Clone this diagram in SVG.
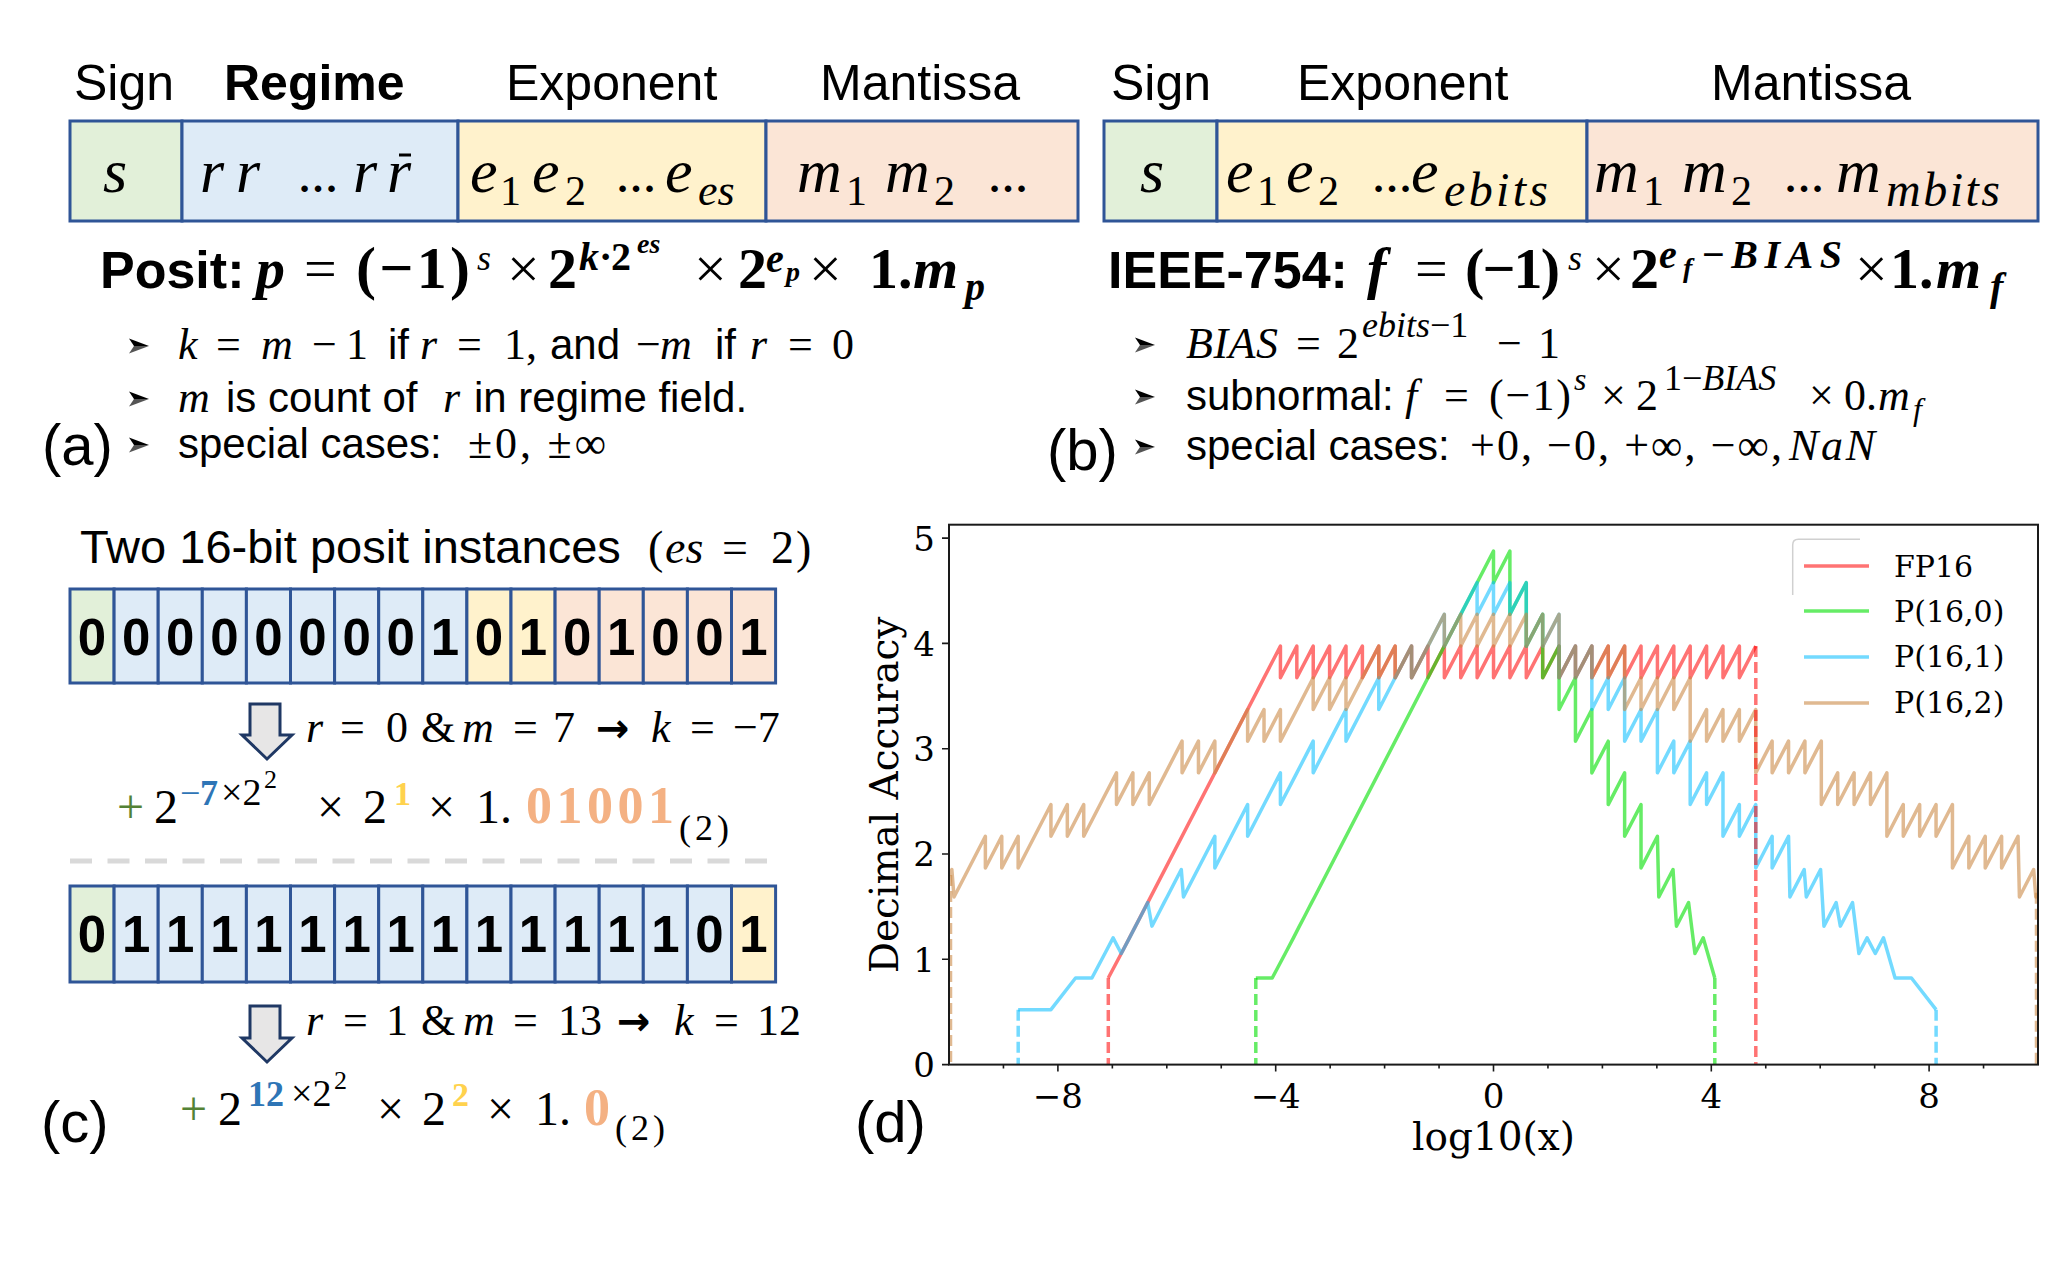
<svg xmlns="http://www.w3.org/2000/svg" width="2068" height="1264" viewBox="0 0 2068 1264">
<defs>
<style>
.sans{font-family:"Liberation Sans",Arial,sans-serif}
.m{font-family:"Liberation Serif","Times New Roman",serif}
.i{font-style:italic}
.n{font-style:normal}
.b{font-weight:bold}
.hd{font-family:"Liberation Sans",Arial,sans-serif;font-size:50px}
.cell{stroke:#2F5597;stroke-width:3}
.g{fill:#E2F0D9}.bl{fill:#DEEBF7}.y{fill:#FFF2CC}.o{fill:#FBE5D6}
.bit{font-family:"Liberation Sans",Arial,sans-serif;font-weight:bold;font-size:51px;text-anchor:middle}
.pl{font-family:"DejaVu Serif",serif}
.ln{fill:none;stroke-width:3.5;stroke-linejoin:round;vector-effect:non-scaling-stroke}
.dash{stroke-width:3.5;stroke-dasharray:11 5}
.red{stroke:#ff0000;stroke-opacity:.55}
.grn{stroke:#00e000;stroke-opacity:.6}
.blu{stroke:#00bbff;stroke-opacity:.55}
.tan{stroke:#c98642;stroke-opacity:.58}
.arr{fill:#E7E6E6;stroke:#1F3864;stroke-width:3;stroke-linejoin:miter}
</style>
<g id="bul"><polygon points="0,-7.5 20,0 5,0" fill="#000"/><polygon points="0,7.5 20,0 5,0" fill="#555"/></g>
<clipPath id="clip"><rect x="949" y="524" width="1089" height="541"/></clipPath>
</defs>
<rect width="2068" height="1264" fill="#fff"/>

<g id="header-a">
<text class="hd" x="74" y="100">Sign</text>
<text class="hd b" x="224" y="100">Regime</text>
<text class="hd" x="506" y="100">Exponent</text>
<text class="hd" x="820" y="100">Mantissa</text>
</g>
<g id="header-b">
<text class="hd" x="1111" y="100">Sign</text>
<text class="hd" x="1297" y="100">Exponent</text>
<text class="hd" x="1711" y="100">Mantissa</text>
</g>

<g id="box-a">
<rect class="cell g" x="70" y="121" width="112" height="100"/>
<rect class="cell bl" x="182" y="121" width="276" height="100"/>
<rect class="cell y" x="458" y="121" width="308" height="100"/>
<rect class="cell o" x="766" y="121" width="312" height="100"/>
<text class="m i" font-size="62" x="103" y="192">s</text>
<text class="m i" font-size="62" y="192"><tspan x="200">r</tspan><tspan x="236">r</tspan><tspan class="n b" font-size="40" x="298">…</tspan><tspan x="353">r</tspan><tspan x="387">r</tspan></text>
<line x1="399" y1="155" x2="411" y2="155" stroke="#000" stroke-width="3"/>
<text class="m i" font-size="62" y="192"><tspan x="470">e</tspan><tspan class="n" font-size="42" x="500" y="205">1</tspan><tspan x="532" y="192">e</tspan><tspan class="n" font-size="42" x="565" y="205">2</tspan><tspan class="n b" font-size="40" x="616" y="192">…</tspan><tspan x="665">e</tspan><tspan font-size="44" x="698" y="205">es</tspan></text>
<text class="m i" font-size="62" y="192"><tspan x="797">m</tspan><tspan class="n" font-size="42" x="846" y="205">1</tspan><tspan x="885" y="192">m</tspan><tspan class="n" font-size="42" x="934" y="205">2</tspan><tspan class="n b" font-size="40" x="988" y="192">…</tspan></text>
</g>

<g id="box-b">
<rect class="cell g" x="1104" y="121" width="113" height="100"/>
<rect class="cell y" x="1217" y="121" width="370" height="100"/>
<rect class="cell o" x="1587" y="121" width="451" height="100"/>
<text class="m i" font-size="62" x="1140" y="192">s</text>
<text class="m i" font-size="62" y="192"><tspan x="1226">e</tspan><tspan class="n" font-size="42" x="1257" y="205">1</tspan><tspan x="1286" y="192">e</tspan><tspan class="n" font-size="42" x="1318" y="205">2</tspan><tspan class="n b" font-size="40" x="1372" y="192">…</tspan><tspan x="1411">e</tspan><tspan font-size="48" x="1444" y="206" textLength="104">ebits</tspan></text>
<text class="m i" font-size="62" y="192"><tspan x="1594">m</tspan><tspan class="n" font-size="42" x="1643" y="205">1</tspan><tspan x="1682" y="192">m</tspan><tspan class="n" font-size="42" x="1731" y="205">2</tspan><tspan class="n b" font-size="40" x="1784" y="192">…</tspan><tspan x="1836">m</tspan><tspan font-size="48" x="1886" y="206" textLength="114">mbits</tspan></text>
</g>

<g id="formula-posit">
<text class="sans b" font-size="52" x="100" y="288">Posit:</text>
<text class="m b i" font-size="58" x="256" y="288">p</text>
<text class="m" font-size="58" x="304" y="288">=</text>
<text class="m b" font-size="60" x="356" y="288" textLength="114">(−1)</text>
<text class="m i" font-size="36" x="477" y="270">s</text>
<text class="m" font-size="58" x="507" y="288">×</text>
<text class="m b" font-size="58" x="548" y="288">2</text>
<text class="m b" font-size="40" y="270"><tspan class="i" x="579">k</tspan><tspan x="599">·</tspan><tspan x="611">2</tspan><tspan class="i" font-size="28" x="637" y="253">es</tspan></text>
<text class="m" font-size="58" x="694" y="288">×</text>
<text class="m b" font-size="58" x="738" y="288">2</text>
<text class="m b i" font-size="40" x="766" y="272">e<tspan font-size="28" x="786" y="281">p</tspan></text>
<text class="m" font-size="58" x="809" y="288">×</text>
<text class="m b" font-size="58" x="869" y="288">1.</text>
<text class="m b i" font-size="58" x="913" y="288">m<tspan font-size="40" x="965" y="300">p</tspan></text>
</g>

<g id="formula-ieee">
<text class="sans b" font-size="52" x="1108" y="288">IEEE-754:</text>
<text class="m b i" font-size="58" x="1367" y="288">f</text>
<text class="m" font-size="58" x="1415" y="288">=</text>
<text class="m b" font-size="58" x="1465" y="288" textLength="95">(−1)</text>
<text class="m i" font-size="36" x="1568" y="270">s</text>
<text class="m" font-size="58" x="1592" y="288">×</text>
<text class="m b" font-size="58" x="1630" y="288">2</text>
<text class="m b i" font-size="40" x="1659" y="268">e<tspan font-size="28" x="1683" y="277">f</tspan></text>
<text class="m b" font-size="40" x="1702" y="268" textLength="140">−<tspan class="i">BIAS</tspan></text>
<text class="m" font-size="58" x="1855" y="288">×</text>
<text class="m b" font-size="58" x="1890" y="288">1.</text>
<text class="m b i" font-size="58" x="1936" y="288">m<tspan font-size="40" x="1990" y="300">f</tspan></text>
</g>

<g id="notes-a">
<use href="#bul" x="129" y="346"/>
<use href="#bul" x="129" y="399"/>
<use href="#bul" x="129" y="445"/>
<text class="m" font-size="44" y="359"><tspan class="i" x="178">k</tspan><tspan x="216">=</tspan><tspan class="i" x="261">m</tspan><tspan x="312">−</tspan><tspan x="346">1</tspan><tspan class="sans" font-size="42" x="388">if</tspan><tspan class="i" x="420">r</tspan><tspan x="457">=</tspan><tspan x="504">1,</tspan><tspan class="sans" font-size="42" x="550">and</tspan><tspan x="636">−</tspan><tspan class="i" x="660">m</tspan><tspan class="sans" font-size="42" x="715">if</tspan><tspan class="i" x="750">r</tspan><tspan x="788">=</tspan><tspan x="832">0</tspan></text>
<text class="sans" font-size="42" y="412"><tspan class="m i" font-size="44" x="178">m</tspan><tspan x="226">is count of</tspan><tspan class="m i" font-size="44" x="443">r</tspan><tspan x="474">in regime field.</tspan></text>
<text class="sans" font-size="42" x="178" y="458">special cases:</text>
<text class="m" font-size="44" x="468" y="458" textLength="138">±0, ±∞</text>
</g>
<text id="label-a" class="sans" font-size="58" x="42" y="465">(a)</text>

<g id="notes-b">
<use href="#bul" x="1135" y="345"/>
<use href="#bul" x="1135" y="397"/>
<use href="#bul" x="1135" y="447"/>
<text class="m i" font-size="44" x="1186" y="358" textLength="92">BIAS</text>
<text class="m" font-size="44" y="358"><tspan x="1296">=</tspan><tspan x="1337">2</tspan><tspan font-size="36" x="1362" y="337"><tspan class="i">ebits</tspan>−1</tspan><tspan x="1497" y="358">−</tspan><tspan x="1538">1</tspan></text>
<text class="sans" font-size="42" x="1186" y="410">subnormal:</text>
<text class="m" font-size="44" y="410"><tspan class="i" x="1405">f</tspan><tspan x="1444">=</tspan></text>
<text class="m" font-size="44" x="1489" y="410" textLength="82">(−1)</text>
<text class="m i" font-size="32" x="1574" y="390">s</text>
<text class="m" font-size="44" y="410"><tspan x="1601">×</tspan><tspan x="1636">2</tspan><tspan font-size="36" x="1664" y="390">1−<tspan class="i">BIAS</tspan></tspan><tspan x="1809" y="410">×</tspan><tspan x="1844">0.</tspan><tspan class="i" x="1878">m</tspan><tspan class="i" font-size="32" x="1913" y="420">f</tspan></text>
<text class="sans" font-size="42" x="1186" y="460">special cases:</text>
<text class="m" font-size="44" x="1470" y="460" textLength="312">+0, −0, +∞, −∞,</text>
<text class="m i" font-size="44" x="1789" y="460" textLength="86">NaN</text>
</g>
<text id="label-b" class="sans" font-size="58" x="1047" y="470">(b)</text>

<g id="title-c">
<text class="sans" font-size="47" x="80" y="563">Two 16-bit posit instances</text>
<text class="m" font-size="46" y="563"><tspan x="648">(</tspan><tspan class="i" x="665">es</tspan><tspan x="722">=</tspan><tspan x="771">2</tspan><tspan x="796">)</tspan></text>
</g>

<g id="bits-1">
<rect class="cell g" x="70" y="589" width="44.1" height="94"/>
<rect class="cell bl" x="114.1" y="589" width="44.1" height="94"/>
<rect class="cell bl" x="158.2" y="589" width="44.1" height="94"/>
<rect class="cell bl" x="202.3" y="589" width="44.1" height="94"/>
<rect class="cell bl" x="246.4" y="589" width="44.1" height="94"/>
<rect class="cell bl" x="290.5" y="589" width="44.1" height="94"/>
<rect class="cell bl" x="334.6" y="589" width="44.1" height="94"/>
<rect class="cell bl" x="378.7" y="589" width="44.1" height="94"/>
<rect class="cell bl" x="422.8" y="589" width="44.1" height="94"/>
<rect class="cell y" x="466.9" y="589" width="44.1" height="94"/>
<rect class="cell y" x="511" y="589" width="44.1" height="94"/>
<rect class="cell o" x="555.1" y="589" width="44.1" height="94"/>
<rect class="cell o" x="599.2" y="589" width="44.1" height="94"/>
<rect class="cell o" x="643.3" y="589" width="44.1" height="94"/>
<rect class="cell o" x="687.4" y="589" width="44.1" height="94"/>
<rect class="cell o" x="731.5" y="589" width="44.1" height="94"/>
<text class="bit" y="655" x="92.05 136.15 180.25 224.35 268.45 312.55 356.65 400.75 444.85 488.95 533.05 577.15 621.25 665.35 709.45 753.55">0000000010101001</text>
</g>

<g id="arrow-1"><path class="arr" d="M250,704H280V735H292L267,759L242,735H250Z"/></g>
<g id="rule-1">
<text class="m" font-size="44" y="742"><tspan class="i" x="306">r</tspan><tspan x="340">=</tspan><tspan x="386">0</tspan><tspan x="421">&amp;</tspan><tspan class="i" x="462">m</tspan><tspan x="513">=</tspan><tspan x="553">7</tspan><tspan x="596" font-family="DejaVu Sans" font-weight="bold" font-size="40">→</tspan><tspan class="i" x="651">k</tspan><tspan x="690">=</tspan><tspan x="733">−7</tspan></text>
</g>
<g id="value-1">
<text class="m" font-size="48" y="823"><tspan x="117" fill="#548235">+</tspan><tspan x="154">2</tspan><tspan font-size="36" x="180" y="805" fill="#2E75B6">−</tspan><tspan font-size="36" x="200" y="805" fill="#2E75B6" font-weight="bold">7</tspan><tspan font-size="38" x="221" y="805">×2</tspan><tspan font-size="26" x="264" y="788">2</tspan><tspan x="317" y="823">×</tspan><tspan x="363">2</tspan><tspan font-size="34" x="394" y="805" fill="#FFD24D" font-weight="bold">1</tspan><tspan x="428" y="823">×</tspan><tspan x="476">1.</tspan></text>
<text class="m b" font-size="52" x="526" y="823" fill="#F4B183" textLength="148">01001</text>
<text class="m" font-size="36" x="679" y="840" textLength="50">(2)</text>
</g>

<line id="separator" x1="70" y1="861" x2="782" y2="861" stroke="#D9D9D9" stroke-width="5" stroke-dasharray="22 15.5"/>

<g id="bits-2">
<rect class="cell g" x="70" y="886" width="44.1" height="96"/>
<rect class="cell bl" x="114.1" y="886" width="44.1" height="96"/>
<rect class="cell bl" x="158.2" y="886" width="44.1" height="96"/>
<rect class="cell bl" x="202.3" y="886" width="44.1" height="96"/>
<rect class="cell bl" x="246.4" y="886" width="44.1" height="96"/>
<rect class="cell bl" x="290.5" y="886" width="44.1" height="96"/>
<rect class="cell bl" x="334.6" y="886" width="44.1" height="96"/>
<rect class="cell bl" x="378.7" y="886" width="44.1" height="96"/>
<rect class="cell bl" x="422.8" y="886" width="44.1" height="96"/>
<rect class="cell bl" x="466.9" y="886" width="44.1" height="96"/>
<rect class="cell bl" x="511" y="886" width="44.1" height="96"/>
<rect class="cell bl" x="555.1" y="886" width="44.1" height="96"/>
<rect class="cell bl" x="599.2" y="886" width="44.1" height="96"/>
<rect class="cell bl" x="643.3" y="886" width="44.1" height="96"/>
<rect class="cell bl" x="687.4" y="886" width="44.1" height="96"/>
<rect class="cell y" x="731.5" y="886" width="44.1" height="96"/>
<text class="bit" y="952" x="92.05 136.15 180.25 224.35 268.45 312.55 356.65 400.75 444.85 488.95 533.05 577.15 621.25 665.35 709.45 753.55">0111111111111101</text>
</g>

<g id="arrow-2"><path class="arr" d="M250,1006H280V1038H292L267,1062L242,1038H250Z"/></g>
<g id="rule-2">
<text class="m" font-size="44" y="1035"><tspan class="i" x="306">r</tspan><tspan x="343">=</tspan><tspan x="386">1</tspan><tspan x="421">&amp;</tspan><tspan class="i" x="463">m</tspan><tspan x="513">=</tspan><tspan x="558">13</tspan><tspan x="617" font-family="DejaVu Sans" font-weight="bold" font-size="40">→</tspan><tspan class="i" x="674">k</tspan><tspan x="714">=</tspan><tspan x="757">12</tspan></text>
</g>
<g id="value-2">
<text class="m" font-size="48" y="1125"><tspan x="180" fill="#548235">+</tspan><tspan x="218">2</tspan><tspan font-size="36" x="248" y="1106" fill="#2E75B6" font-weight="bold">12</tspan><tspan font-size="38" x="291" y="1106">×2</tspan><tspan font-size="26" x="334" y="1089">2</tspan><tspan x="377" y="1125">×</tspan><tspan x="422">2</tspan><tspan font-size="34" x="452" y="1106" fill="#FFD24D" font-weight="bold">2</tspan><tspan x="487" y="1125">×</tspan><tspan x="535">1.</tspan><tspan font-size="52" x="584" fill="#F4B183" font-weight="bold">0</tspan></text>
<text class="m" font-size="36" x="615" y="1140" textLength="50">(2)</text>
</g>
<text id="label-c" class="sans" font-size="58" x="41" y="1142">(c)</text>

<g id="chart">
<g clip-path="url(#clip)">
<g transform="translate(1493.5 1064.6) scale(54.45 -105.3)">
<path id="curve-fp16" class="ln red" d="M-7.075 .822L-6.836 1.055L-6.686 1.204L-6.574 1.315L-3.913 3.9745v-.30103l.30103 .30103v-.30103l.30103 .30103v-.30103l.30103 .30103v-.30103l.30103 .30103v-.30103l.30103 .30103v-.30103l.30103 .30103v-.30103l.30103 .30103v-.30103l.30103 .30103v-.30103l.30103 .30103v-.30103l.30103 .30103v-.30103l.30103 .30103v-.30103l.30103 .30103v-.30103l.30103 .30103v-.30103l.30103 .30103v-.30103l.30103 .30103v-.30103l.30103 .30103v-.30103l.30103 .30103v-.30103l.30103 .30103v-.30103l.30103 .30103v-.30103l.30103 .30103v-.30103l.30103 .30103v-.30103l.30103 .30103v-.30103l.30103 .30103v-.30103l.30103 .30103v-.30103l.30103 .30103v-.30103l.30103 .30103v-.30103l.30103 .30103v-.30103l.30103 .30103v-.30103l.30103 .30103"/>
<path id="curve-p160" class="ln grn" d="M-4.365 .8225L-4.064 .8225L-3.825 1.055L-3.674 1.204L-3.564 1.315L-3.476 1.402L-3.403 1.475L-3.34 1.538L-3.285 1.592L0 4.8776v-.30103l.30103 .30103v-.60206l.30103 .30103v-.60206l.30103 .30103v-.60206l.30103 .30103v-.60206l.30103 .30103v-.60206l.30103 .30103v-.60206l.30103 .30103v-.60206l.30103 .30103v-.60206l.30103 .30103v-.60206l.30103 .30103L3.036 1.592L3.297 1.853L3.36 1.315L3.448 1.402L3.521 1.475L3.583 1.538L3.7 1.055L3.851 1.204L4.064 .8225"/>
<path id="curve-p161" class="ln blu" d="M-8.73 .5214L-8.128 .5214L-7.676 .8225L-7.375 .8225L-7.137 1.055L-6.986 1.204L-6.836 1.055L-6.685 1.204L-6.574 1.315L-6.486 1.402L-6.413 1.475L-6.351 1.538L-6.273 1.315L-6.185 1.402L-6.112 1.475L-6.05 1.538L-5.995 1.592L-5.734 1.853L-5.694 1.592L-5.433 1.853L-5.4185 1.8674l.30103 .30103v-.30103l.30103 .30103l.30103 .30103v-.30103l.30103 .30103l.30103 .30103v-.30103l.30103 .30103l.30103 .30103v-.30103l.30103 .30103l.30103 .30103v-.30103l.30103 .30103l.30103 .30103v-.30103l.30103 .30103l.30103 .30103v-.30103l.30103 .30103l.30103 .30103v-.30103l.30103 .30103l.30103 .30103v-.30103l.30103 .30103v-.30103l.30103 .30103v-.30103l.30103 .30103v-.60206l.30103 .30103v-.30103l.30103 .30103v-.60206l.30103 .30103v-.30103l.30103 .30103v-.60206l.30103 .30103v-.30103l.30103 .30103v-.60206l.30103 .30103v-.30103l.30103 .30103v-.60206l.30103 .30103v-.30103l.30103 .30103v-.60206l.30103 .30103v-.30103l.30103 .30103v-.60206l.30103 .30103v-.30103l.30103 .30103v-.60206l.30103 .30103v-.30103l.30103 .30103L5.444 1.592L5.706 1.853L5.745 1.592L6.007 1.853L6.069 1.315L6.157 1.402L6.23 1.475L6.293 1.538L6.37 1.315L6.458 1.402L6.531 1.475L6.594 1.538L6.711 1.055L6.861 1.204L7.012 1.055L7.162 1.204L7.375 .8225L7.676 .8225L8.128 .5214"/>
<path id="curve-p162" class="ln tan" d="M-10 1.801L-9.948 1.853L-9.908 1.592L-9.647 1.853L-9.633 1.8674l.30103 .30103v-.30103l.30103 .30103v-.30103l.30103 .30103v-.30103l.30103 .30103l.30103 .30103v-.30103l.30103 .30103v-.30103l.30103 .30103v-.30103l.30103 .30103l.30103 .30103v-.30103l.30103 .30103v-.30103l.30103 .30103v-.30103l.30103 .30103l.30103 .30103v-.30103l.30103 .30103v-.30103l.30103 .30103v-.30103l.30103 .30103l.30103 .30103v-.30103l.30103 .30103v-.30103l.30103 .30103v-.30103l.30103 .30103l.30103 .30103v-.30103l.30103 .30103v-.30103l.30103 .30103v-.30103l.30103 .30103l.30103 .30103v-.30103l.30103 .30103v-.30103l.30103 .30103v-.30103l.30103 .30103l.30103 .30103v-.30103l.30103 .30103v-.30103l.30103 .30103v-.30103l.30103 .30103v-.30103l.30103 .30103v-.30103l.30103 .30103v-.30103l.30103 .30103v-.30103l.30103 .30103v-.60206l.30103 .30103v-.30103l.30103 .30103v-.30103l.30103 .30103v-.30103l.30103 .30103v-.60206l.30103 .30103v-.30103l.30103 .30103v-.30103l.30103 .30103v-.30103l.30103 .30103v-.60206l.30103 .30103v-.30103l.30103 .30103v-.30103l.30103 .30103v-.30103l.30103 .30103v-.60206l.30103 .30103v-.30103l.30103 .30103v-.30103l.30103 .30103v-.30103l.30103 .30103v-.60206l.30103 .30103v-.30103l.30103 .30103v-.30103l.30103 .30103v-.30103l.30103 .30103v-.60206l.30103 .30103v-.30103l.30103 .30103v-.30103l.30103 .30103v-.30103l.30103 .30103v-.60206l.30103 .30103v-.30103l.30103 .30103v-.30103l.30103 .30103v-.30103l.30103 .30103L9.659 1.592L9.92 1.853L9.96 1.592L10.1 1.732"/>
</g>
</g>
<g id="limits">
<line class="dash red" x1="1108.3" y1="978" x2="1108.3" y2="1064.6"/>
<line class="dash red" x1="1755.8" y1="646.1" x2="1755.8" y2="1064.6"/>
<line class="dash grn" x1="1255.8" y1="978" x2="1255.8" y2="1064.6"/>
<line class="dash grn" x1="1714.8" y1="978" x2="1714.8" y2="1064.6"/>
<line class="dash blu" x1="1018.2" y1="1009.7" x2="1018.2" y2="1064.6"/>
<line class="dash blu" x1="1936.1" y1="1009.7" x2="1936.1" y2="1064.6"/>
<line class="dash tan" x1="950.5" y1="875" x2="950.5" y2="1064.6"/>
<line class="dash tan" x1="2036.5" y1="892.8" x2="2036.5" y2="1064.6"/>
</g>
<rect x="949" y="524.7" width="1089" height="539.9" fill="none" stroke="#1a1a1a" stroke-width="2"/>
<path d="M1057.9 1064.6v7M1275.7 1064.6v7M1493.5 1064.6v7M1711.3 1064.6v7M1929.1 1064.6v7M1003.45 1064.6v4M1112.35 1064.6v4M1166.8 1064.6v4M1221.25 1064.6v4M1330.15 1064.6v4M1384.6 1064.6v4M1439.05 1064.6v4M1547.95 1064.6v4M1602.4 1064.6v4M1656.85 1064.6v4M1765.75 1064.6v4M1820.2 1064.6v4M1874.65 1064.6v4M1983.55 1064.6v4M942 1064.6h7M942 959.3h7M942 854h7M942 748.7h7M942 643.4h7M942 538.1h7" stroke="#1a1a1a" stroke-width="1.6" fill="none"/>
<g class="pl" font-size="34">
<text text-anchor="middle" y="1108"><tspan x="1057.9">−8</tspan></text>
<text text-anchor="middle" y="1108"><tspan x="1275.7">−4</tspan></text>
<text text-anchor="middle" x="1493.5" y="1108">0</text>
<text text-anchor="middle" x="1711.3" y="1108">4</text>
<text text-anchor="middle" x="1929.1" y="1108">8</text>
<text text-anchor="end" x="935" y="1077">0</text>
<text text-anchor="end" x="935" y="971.7">1</text>
<text text-anchor="end" x="935" y="866.4">2</text>
<text text-anchor="end" x="935" y="761.1">3</text>
<text text-anchor="end" x="935" y="655.8">4</text>
<text text-anchor="end" x="935" y="550.5">5</text>
</g>
<text class="pl" font-size="39" text-anchor="middle" x="1493.5" y="1150">log10(x)</text>
<text class="pl" font-size="39" text-anchor="middle" transform="translate(898 795) rotate(-90)">Decimal Accuracy</text>
<g id="legend">
<path d="M1792.7 595V545Q1792.7 539.3 1798.4 539.3H1860" fill="none" stroke="#d0d0d0" stroke-width="1.5"/>
<line class="red" x1="1804" y1="566" x2="1869" y2="566" stroke-width="3.5"/>
<line class="grn" x1="1804" y1="611" x2="1869" y2="611" stroke-width="3.5"/>
<line class="blu" x1="1804" y1="657" x2="1869" y2="657" stroke-width="3.5"/>
<line class="tan" x1="1804" y1="703" x2="1869" y2="703" stroke-width="3.5"/>
<g class="pl" font-size="30">
<text x="1894" y="577">FP16</text>
<text x="1894" y="622">P(16,0)</text>
<text x="1894" y="667">P(16,1)</text>
<text x="1894" y="713">P(16,2)</text>
</g>
</g>
</g>
<text id="label-d" class="sans" font-size="58" x="855" y="1142">(d)</text>
</svg>
